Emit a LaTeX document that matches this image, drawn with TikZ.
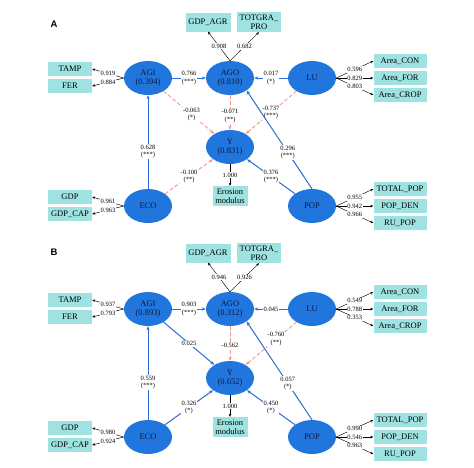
\documentclass[tikz,border=0pt]{standalone}
\usepackage{fontspec}
\setmainfont{Liberation Serif}
\newfontfamily\panelfont{Liberation Sans}
\usetikzlibrary{arrows.meta,shapes.geometric}
\definecolor{latent}{RGB}{33,118,222}
\definecolor{lvtext}{RGB}{15,25,60}
\definecolor{effc}{RGB}{45,108,210}
\definecolor{negc}{RGB}{242,150,140}
\definecolor{boxc}{RGB}{158,226,226}
\tikzset{
  every picture/.style={line cap=round, line join=round,
    >={Stealth[length=4pt,width=3.2pt]}},
  % Variablen
  lv/.style={ellipse, fill=latent, text=lvtext, minimum width=48pt, minimum height=34pt,
    inner sep=0pt, align=center, font=\fontsize{8.5}{9.5}\selectfont},
  mv/.style={fill=boxc, minimum width=#1, minimum height=14pt, inner sep=1pt,
    align=center, font=\fontsize{8.5}{9}\selectfont},
  mv/.default=44pt,
  tag/.style={font=\panelfont\bfseries\fontsize{9.5}{10}\selectfont},
  % Pfade
  load/.style={->, line width=0.45pt, >={Stealth[length=3pt,width=2.6pt]}},
  eff/.style={->, effc, line width=1pt},
  neg/.style={->, negc, line width=0.9pt, dash pattern=on 3.5pt off 2.5pt},
  % Koeffizienten mit Aussparung
  num/.style={fill=white, text=black, inner sep=0.8pt, align=center,
    font=\fontsize{6.5}{7.6}\selectfont},
}
\begin{document}
\begin{tikzpicture}[x=1pt, y=-1pt]
  \useasboundingbox (0,0) rectangle (474,467);
  % Teil A
  \begin{scope}[name prefix=A-]
    \node[tag] (tag) at (54,24) {A};
    \node[lv] (agi) at (148,78) {AGI\\(0.394)};
    \node[lv] (ago) at (230,78) {AGO\\(0.810)};
    \node[lv] (lu) at (312,78) {LU};
    \node[lv] (y) at (230,147) {Y\\(0.831)};
    \node[lv] (eco) at (148,206) {ECO};
    \node[lv] (pop) at (312,206) {POP};
    \node[mv] (tamp) at (70,69) {TAMP};
    \node[mv] (fer) at (70,86) {FER};
    \node[mv=45pt, minimum height=19pt] (gdpagr) at (208,22) {GDP\_AGR};
    \node[mv, minimum height=20pt] (totgra) at (259,22) {TOTGRA\_\\PRO};
    \node[mv=53pt] (acon) at (400,61) {Area\_CON};
    \node[mv=53pt] (afor) at (400,78) {Area\_FOR};
    \node[mv=53pt] (acrop) at (400,95) {Area\_CROP};
    \node[mv=35pt, minimum height=20pt] (ero) at (230,196) {Erosion\\modulus};
    \node[mv] (gdp) at (70,197) {GDP};
    \node[mv] (gdpcap) at (70,214) {GDP\_CAP};
    \node[mv=53pt] (tpop) at (400,189) {TOTAL\_POP};
    \node[mv=53pt] (pden) at (400,206) {POP\_DEN};
    \node[mv=53pt] (rpop) at (400,223) {RU\_POP};
    % Messmodell
    \draw[load] (agi.west) -- node[num] {0.919} (tamp.east);
    \draw[load] (agi.west) -- node[num] {0.884} (fer.east);
    \draw[load] (ago.north) -- node[num] {0.908} (gdpagr.south);
    \draw[load] (ago.north) -- node[num] {0.682} (totgra.south);
    \draw[load] (lu.east) -- node[num] {0.596} (acon.west);
    \draw[load] (lu.east) -- node[num] {0.829} (afor.west);
    \draw[load] (lu.east) -- node[num] {0.803} (acrop.west);
    \draw[load] (eco.west) -- node[num] {0.961} (gdp.east);
    \draw[load] (eco.west) -- node[num] {0.963} (gdpcap.east);
    \draw[load] (pop.east) -- node[num] {0.955} (tpop.west);
    \draw[load] (pop.east) -- node[num] {0.942} (pden.west);
    \draw[load] (pop.east) -- node[num] {0.966} (rpop.west);
    \draw[load] (y) -- node[num] {1.000} (ero);
    % Strukturmodell
    \draw[eff] (agi) -- node[num] {0.766\\(***)} (ago);
    \draw[eff] (lu) -- node[num] {0.017\\(*)} (ago);
    \draw[eff] (eco) -- node[num, pos=0.4] {0.628\\(***)} (agi);
    \draw[neg] (agi) -- node[num, pos=0.55] {-0.063\\(*)} (y);
    \draw[neg] (ago) -- node[num, pos=0.6] {-0.071\\(**)} (y);
    \draw[neg] (lu) -- node[num] {-0.737\\(***)} (y);
    \draw[eff] (pop.north) -- node[num, pos=0.37] {0.296\\(***)} (ago.-37);
    \draw[neg] (eco) -- node[num] {-0.100\\(**)} (y);
    \draw[eff] (pop) -- node[num] {0.376\\(***)} (y);
  \end{scope}
  % Teil B
  \begin{scope}[shift={(0,231)}, name prefix=B-]
    \node[tag] (tag) at (54,21) {B};
    \node[lv] (agi) at (148,78) {AGI\\(0.893)};
    \node[lv] (ago) at (230,78) {AGO\\(0.312)};
    \node[lv] (lu) at (312,78) {LU};
    \node[lv] (y) at (230,147) {Y\\(0.652)};
    \node[lv] (eco) at (148,206) {ECO};
    \node[lv] (pop) at (312,206) {POP};
    \node[mv] (tamp) at (70,69) {TAMP};
    \node[mv] (fer) at (70,86) {FER};
    \node[mv=45pt, minimum height=19pt] (gdpagr) at (208,22) {GDP\_AGR};
    \node[mv, minimum height=20pt] (totgra) at (259,22) {TOTGRA\_\\PRO};
    \node[mv=53pt] (acon) at (400,61) {Area\_CON};
    \node[mv=53pt] (afor) at (400,78) {Area\_FOR};
    \node[mv=53pt] (acrop) at (400,95) {Area\_CROP};
    \node[mv=35pt, minimum height=20pt] (ero) at (230,196) {Erosion\\modulus};
    \node[mv] (gdp) at (70,197) {GDP};
    \node[mv] (gdpcap) at (70,214) {GDP\_CAP};
    \node[mv=53pt] (tpop) at (400,189) {TOTAL\_POP};
    \node[mv=53pt] (pden) at (400,206) {POP\_DEN};
    \node[mv=53pt] (rpop) at (400,223) {RU\_POP};
    % Messmodell
    \draw[load] (agi.west) -- node[num] {0.937} (tamp.east);
    \draw[load] (agi.west) -- node[num] {0.793} (fer.east);
    \draw[load] (ago.north) -- node[num] {0.946} (gdpagr.south);
    \draw[load] (ago.north) -- node[num] {0.926} (totgra.south);
    \draw[load] (lu.east) -- node[num] {0.549} (acon.west);
    \draw[load] (lu.east) -- node[num] {0.788} (afor.west);
    \draw[load] (lu.east) -- node[num] {0.353} (acrop.west);
    \draw[load] (eco.west) -- node[num] {0.980} (gdp.east);
    \draw[load] (eco.west) -- node[num] {0.924} (gdpcap.east);
    \draw[load] (pop.east) -- node[num] {0.990} (tpop.west);
    \draw[load] (pop.east) -- node[num] {0.546} (pden.west);
    \draw[load] (pop.east) -- node[num] {0.963} (rpop.west);
    \draw[load] (y) -- node[num] {1.000} (ero);
    % Strukturmodell
    \draw[eff] (agi) -- node[num] {0.903\\(***)} (ago);
    \draw[eff] (lu) -- node[num] {0.045} (ago);
    \draw[eff] (eco) -- node[num, pos=0.4] {0.559\\(***)} (agi);
    \draw[eff] (agi) -- node[num] {0.025} (y);
    \draw[neg] (ago) -- node[num, pos=0.55] {-0.562} (y);
    \draw[neg] (lu) -- node[num, pos=0.4] {-0.760\\(**)} (y);
    \draw[eff] (pop.north) -- node[num, pos=0.37] {0.057\\(*)} (ago.-37);
    \draw[eff] (eco) -- node[num] {0.326\\(*)} (y);
    \draw[eff] (pop) -- node[num] {0.450\\(*)} (y);
  \end{scope}
\end{tikzpicture}
\end{document}
